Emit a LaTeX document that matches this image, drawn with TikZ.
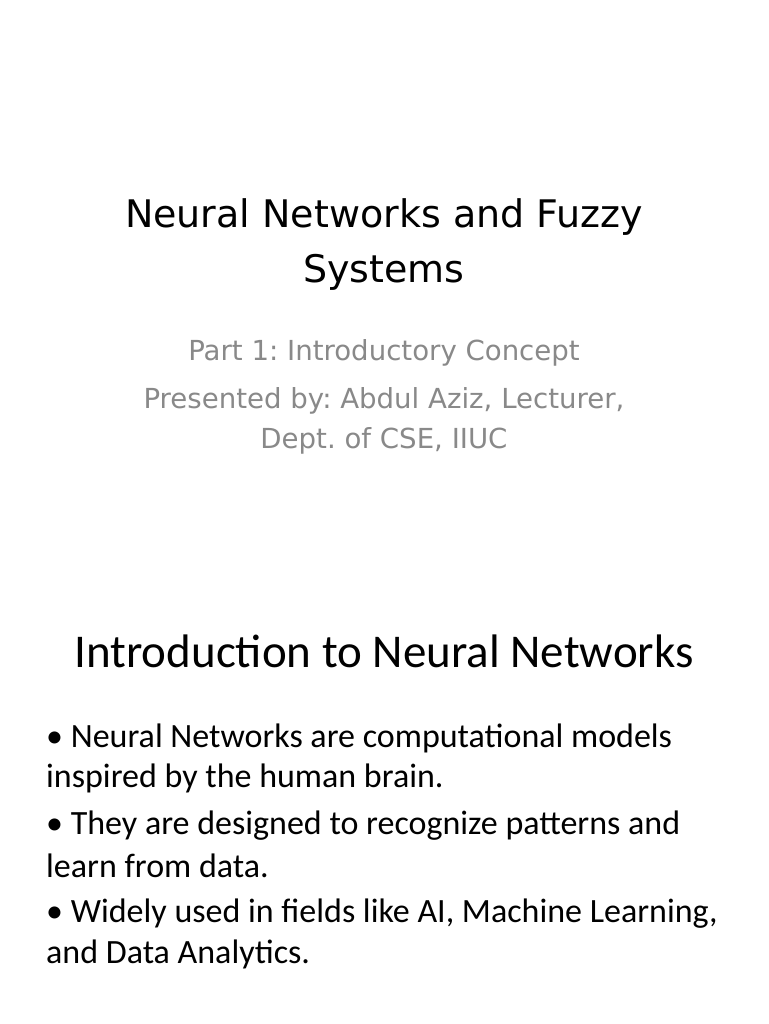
\documentclass[tikz,border=0pt]{standalone}
\usepackage{fontspec}
\setmainfont{DejaVu Sans}
\newfontfamily\calfont{Carlito}
\definecolor{sub}{RGB}{137,137,137}
\frenchspacing
\begin{document}
\begin{tikzpicture}[x=1pt,y=1pt,
  ttl/.style={inner sep=0pt,font=\fontsize{38}{46}\selectfont},
  subt/.style={inner sep=0pt,text=sub,font=\fontsize{27.6}{33}\selectfont},
  bul/.style={inner sep=0pt,anchor=west,font=\calfont\fontsize{34}{41}\selectfont}]
\fill[white] (0,0) rectangle (768,1024);
\useasboundingbox (0,0) rectangle (768,1024);
\node[ttl] (t1) at (384,1024-217) {Neural Networks and Fuzzy};
\node[ttl] (t2) at (384,1024-272) {Systems};
\node[subt] (s1) at (384,1024-353) {Part 1: Introductory Concept};
\node[subt] (s2) at (384,1024-401) {Presented by: Abdul Aziz, Lecturer,};
\node[subt] (s3) at (384,1024-441) {Dept. of CSE, IIUC};
\node[inner sep=0pt,font=\calfont\fontsize{47}{56}\selectfont] (h) at (384,1024-651) {Introduction to Neural Networks};
\node[bul] (b1) at (46,1024-738) {• Neural Networks are computational models};
\node[bul] (b1b) at (46,1024-778) {inspired by the human brain.};
\node[bul] (b2) at (46,1024-826) {• They are designed to recognize patterns and};
\node[bul] (b2b) at (46,1024-866) {learn from data.};
\node[bul] (b3) at (46,1024-914) {• Widely used in fields like AI, Machine Learning,};
\node[bul] (b3b) at (46,1024-954) {and Data Analytics.};
\end{tikzpicture}
\end{document}
